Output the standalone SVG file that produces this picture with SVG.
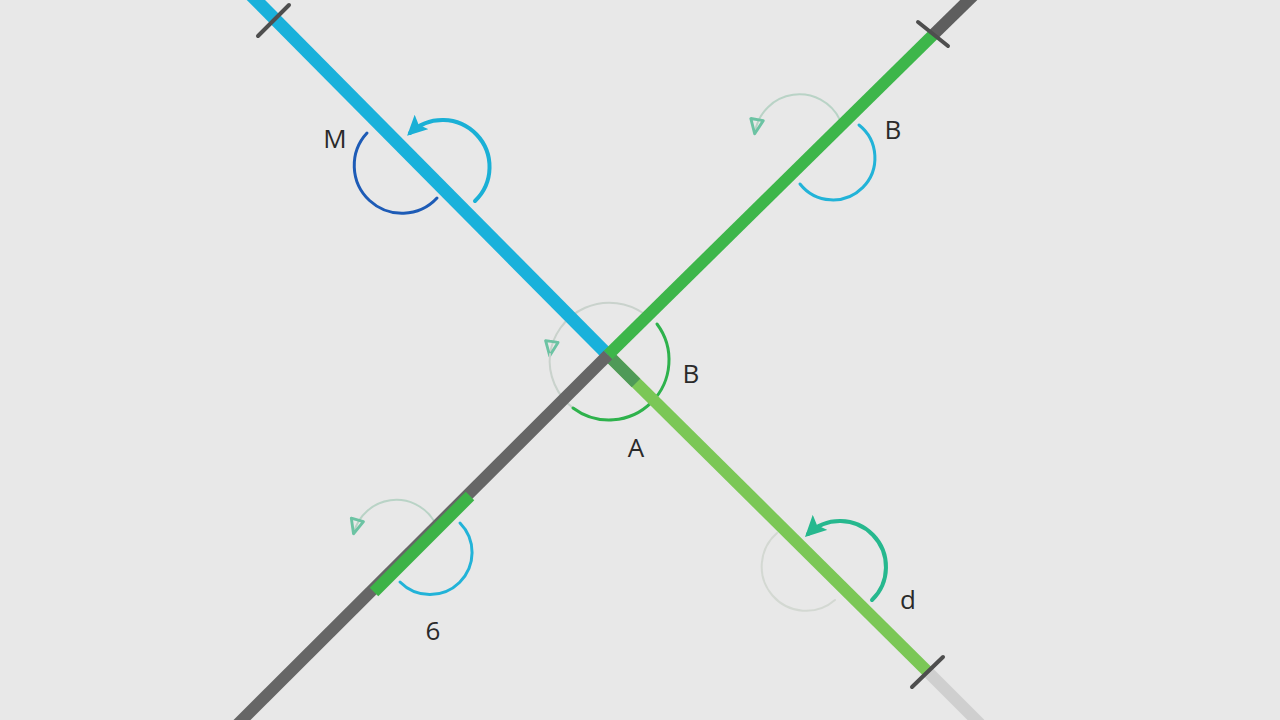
<svg xmlns="http://www.w3.org/2000/svg" width="1280" height="720" viewBox="0 0 1280 720">
  <style>
    .lbl { font-family: "Open Sans", "Liberation Sans", sans-serif; font-size: 26px; fill: #2a2a2a; text-anchor: middle; }
    .bar { fill: none; stroke-linecap: butt; stroke-width: 12; }
    .tick { stroke: #4e4e4e; stroke-width: 4; stroke-linecap: round; }
    .arc { fill: none; stroke-linecap: round; }
    .faint { stroke: #b9d3c6; stroke-width: 2; }
  </style>
  <defs>
    <marker id="arrCyan" viewBox="0 0 10 10" refX="8" refY="5" markerWidth="20" markerHeight="20" markerUnits="userSpaceOnUse" orient="auto">
      <path d="M0,0 L10,5 L0,10 L2,5 z" fill="#1ab0d6"/>
    </marker>
    <marker id="arrTeal" viewBox="0 0 10 10" refX="8" refY="5" markerWidth="21" markerHeight="21" markerUnits="userSpaceOnUse" orient="auto">
      <path d="M0,0 L10,5 L0,10 L2,5 z" fill="#26b88e"/>
    </marker>
    <marker id="arrHollow" viewBox="0 0 10 10" refX="8" refY="5" markerWidth="18" markerHeight="18" markerUnits="userSpaceOnUse" orient="auto">
      <path d="M1,1.5 L9,5 L1,8.5 z" fill="none" stroke="#6cc3a3" stroke-width="1.6" stroke-linejoin="round"/>
    </marker>
  </defs>
  <rect width="1280" height="720" fill="#e8e8e8"/>

  <g id="node-topleft">
    <path class="arc" d="M 475 201 A 43 43 0 1 0 410 133" stroke="#1ab0d6" stroke-width="4" marker-end="url(#arrCyan)"/>
    <path class="arc" d="M 367 133 A 45 45 0 1 0 437 198" stroke="#1d5bb6" stroke-width="3"/>
    <text class="lbl" x="335" y="148">M</text>
  </g>

  <g id="node-topright">
    <path class="arc faint" d="M 840 120 A 45 45 0 0 0 755 132" marker-end="url(#arrHollow)"/>
    <path class="arc" d="M 859 125 A 42 42 0 1 1 800 184" stroke="#22b3d8" stroke-width="3"/>
    <text class="lbl" x="893" y="139">B</text>
  </g>

  <g id="node-center">
    <path class="arc" d="M 643 313 A 60 60 0 0 0 550 354" stroke="#c9d2cc" stroke-width="2" marker-end="url(#arrHollow)"/>
    <path class="arc" d="M 550 354 A 60 60 0 0 0 573 408" stroke="#c9d2cc" stroke-width="2"/>
    <path class="arc" d="M 657 324 A 60 60 0 0 1 573 408" stroke="#2eb24c" stroke-width="3"/>
    <text class="lbl" x="691" y="383">B</text>
    <text class="lbl" x="636" y="457">A</text>
  </g>

  <g id="node-bottomleft">
    <path class="arc faint" d="M 434 521 A 44 44 0 0 0 354 532" marker-end="url(#arrHollow)"/>
    <path class="arc" d="M 460 523 A 42 42 0 1 1 400 582" stroke="#22b3d8" stroke-width="3"/>
    <text class="lbl" x="433" y="640">6</text>
  </g>

  <g id="node-bottomright">
    <path class="arc" d="M 872 600 A 43 43 0 1 0 808 534" stroke="#26b88e" stroke-width="4" marker-end="url(#arrTeal)"/>
    <path class="arc" d="M 777 533 A 42 42 0 1 0 835 600" stroke="#d3d8d2" stroke-width="2"/>
    <text class="lbl" x="908" y="609">d</text>
  </g>

  <g id="connectors">
    <line class="bar" x1="246" y1="-10" x2="608" y2="355" stroke="#19b1db" style="stroke-width:13"/>
    <line class="bar" x1="608" y1="355" x2="928" y2="672" stroke="#7bc756"/>
    <line class="bar" x1="608" y1="355" x2="636" y2="383" stroke="#4f9a58"/>
    <line class="bar" x1="928" y1="672" x2="980" y2="724" stroke="#cfcfcf"/>
    <line class="bar" x1="608" y1="355" x2="934" y2="34" stroke="#3db64a"/>
    <line class="bar" x1="934" y1="34" x2="980" y2="-11" stroke="#5e5e5e"/>
    <line class="bar" x1="608" y1="355" x2="236" y2="726" stroke="#666666"/>
    <line class="bar" x1="374" y1="592" x2="470" y2="496" stroke="#3cb347"/>
    <line class="tick" x1="258" y1="36" x2="289" y2="5"/>
    <line class="tick" x1="918" y1="22" x2="948" y2="46"/>
    <line class="tick" x1="912" y1="687" x2="943" y2="657"/>
  </g>
</svg>
